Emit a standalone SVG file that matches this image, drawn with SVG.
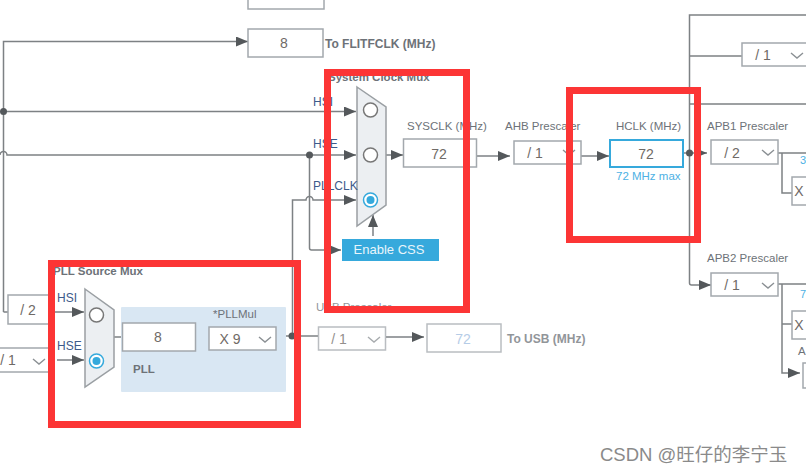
<svg xmlns="http://www.w3.org/2000/svg" width="806" height="474" viewBox="0 0 806 474">
<style>
text{font-family:"Liberation Sans",Arial,sans-serif}
.w{fill:none;stroke:#7d8184;stroke-width:1.5}
.b{fill:#fff;stroke:#a3a8ad;stroke-width:1.5}
.m{fill:#eceff2;stroke:#9a9fa3;stroke-width:1.5}
.l{font-size:11.500px;fill:#6d7278}
.s{font-size:12px;fill:#3d5a8a}
.v{font-size:14px;fill:#6f6a66;text-anchor:middle}
.t{font-size:11.500px;font-weight:bold;fill:#6d7278}
.c{fill:none;stroke:#8b9094;stroke-width:1.4}
.r{fill:none;stroke:#fc3535;stroke-width:7}
.d{fill:#54585b}
</style>
<defs>
<marker id="a" markerWidth="13" markerHeight="10" refX="12" refY="5" orient="auto" markerUnits="userSpaceOnUse"><path d="M0 0L12 5L0 10z" fill="#54585b"/></marker>
</defs>
<g id="connectors">
<path class="w" d="M3.500 312V41.500H248" marker-end="url(#a)"/>
<path class="w" d="M3.500 111.500H356" marker-end="url(#a)"/>
<path class="w" d="M0 155a3.500 3.500 0 0 1 7 0H356" marker-end="url(#a)"/>
<path class="w" d="M309.500 155V248q0 2 2 2H341" marker-end="url(#a)"/>
<path class="w" d="M292.500 336V200H306a3.500 3.500 0 0 1 7 0H356" marker-end="url(#a)"/>
<path class="w" d="M386 155H403" marker-end="url(#a)"/>
<path class="w" d="M477 156H510" marker-end="url(#a)"/>
<path class="w" d="M581 156H609" marker-end="url(#a)"/>
<path class="w" d="M373 236V215" marker-end="url(#a)"/>
<path class="w" d="M684 153H707" marker-end="url(#a)"/>
<path class="w" d="M806 15H689.500V283q0 2 2 2H711" marker-end="url(#a)"/>
<path class="w" d="M690 56H742M690 104H806"/>
<path class="w" d="M3.500 312H10"/>
<path class="w" d="M55 312H84" marker-end="url(#a)"/>
<path class="w" d="M57 360H84" marker-end="url(#a)"/>
<path class="w" d="M114 337H122M196 337H209M276 336H318"/>
<path class="w" d="M386 337H424" marker-end="url(#a)"/>
<path class="w" d="M778 153H806M782 153V193H792M778 284H806M782 324H792"/>
<path class="w" d="M782 284V373H800" marker-end="url(#a)"/>
<circle class="d" cx="3.500" cy="111.500" r="3.500"/>
<circle class="d" cx="309.500" cy="155" r="3.500"/>
<circle class="d" cx="292" cy="336" r="3.500"/>
<circle class="d" cx="689.500" cy="153" r="3.500"/>
</g>
<g id="flitf"><rect class="b" x="248" y="-5" width="76" height="14"/><rect class="b" x="248" y="29" width="75" height="28"/><text class="v" x="284" y="48">8</text><text class="t" x="325" y="48" style="font-size:12px">To FLITFCLK (MHz)</text></g>
<g id="sysmux"><path class="m" d="M357 87L386 107V205L357 226z"/><circle cx="370.500" cy="110" r="7" fill="#fff" stroke="#777" stroke-width="1.500"/><circle cx="370.500" cy="155" r="7" fill="#fff" stroke="#777" stroke-width="1.500"/><circle cx="370.500" cy="200" r="7" fill="#fff" stroke="#35a9dc" stroke-width="1.500"/><circle cx="370.500" cy="200" r="4" fill="#35a9dc"/><text class="t" x="328" y="81">System Clock Mux</text><text class="s" x="313" y="106">HSI</text><text class="s" x="313" y="148">HSE</text><text class="s" x="313" y="190">PLLCLK</text></g>
<g id="css"><rect x="342" y="239" width="97" height="22" fill="#36a9dc"/><text x="389" y="254" font-size="13" fill="#e8f5fb" text-anchor="middle">Enable CSS</text></g>
<g id="sysclk"><rect class="b" x="403.500" y="139" width="73" height="28"/><text class="v" x="439" y="159">72</text><text class="l" x="407" y="130">SYSCLK (MHz)</text></g>
<g id="ahb"><rect class="b" x="514" y="141" width="67" height="23"/><text class="v" x="535" y="158">/ 1</text><path class="c" d="M563 150l6 5l6-5"/><text class="l" x="505" y="130">AHB Prescaler</text></g>
<g id="hclk"><rect x="610" y="140" width="73" height="27" fill="#fff" stroke="#36a9dc" stroke-width="2"/><text class="v" x="646" y="159">72</text><text class="l" x="616" y="130">HCLK (MHz)</text><text x="616" y="180" font-size="11.500" fill="#4db1e4">72 MHz max</text></g>
<g id="apb1"><rect class="b" x="711" y="140" width="67" height="24"/><text class="v" x="732" y="158">/ 2</text><path class="c" d="M762 150l6 5l6-5"/><text class="l" x="707" y="130">APB1 Prescaler</text><text x="800" y="164" font-size="11" fill="#4db1e4">3</text><rect class="b" x="792" y="177" width="30" height="28"/><text class="v" x="799" y="196">X</text></g>
<g id="cortex"><rect class="b" x="742" y="43" width="80" height="23"/><text class="v" x="763" y="60">/ 1</text><path class="c" d="M791 53l6 5l6-5"/></g>
<g id="apb2"><rect class="b" x="711" y="273" width="67" height="23"/><text class="v" x="732" y="290">/ 1</text><path class="c" d="M762 283l6 5l6-5"/><text class="l" x="707" y="262">APB2 Prescaler</text><text x="800" y="298" font-size="11" fill="#4db1e4">7</text><rect class="b" x="792" y="311" width="30" height="28"/><text class="v" x="799" y="330">X</text><text class="l" x="798" y="355">A</text><rect class="b" x="803" y="363" width="20" height="25"/></g>
<g id="pllmux"><rect class="b" x="8" y="295" width="44" height="29"/><text class="v" x="28" y="315">/ 2</text><rect class="b" x="-20" y="348" width="72" height="24"/><text class="v" x="8" y="365">/ 1</text><path class="c" d="M33 359l6 5l6-5"/><path class="m" d="M85 289L114 310V367L85 387z"/><circle cx="96.500" cy="315" r="7" fill="#fff" stroke="#777" stroke-width="1.500"/><circle cx="96.500" cy="361" r="7" fill="#fff" stroke="#35a9dc" stroke-width="1.500"/><circle cx="96.500" cy="361" r="4" fill="#35a9dc"/><text class="t" x="53" y="275">PLL Source Mux</text><text class="s" x="57" y="302">HSI</text><text class="s" x="57" y="350">HSE</text></g>
<g id="pll"><rect x="121" y="307" width="165" height="85" rx="1" fill="#d9e7f3"/><rect class="b" x="122.500" y="323" width="73" height="28"/><text class="v" x="158" y="342">8</text><rect class="b" x="209" y="327" width="67" height="23"/><text class="v" x="230" y="344">X 9</text><path class="c" d="M259 337l6 5l6-5"/><text class="l" x="213" y="318">*PLLMul</text><text class="t" x="133" y="373">PLL</text></g>
<g id="usb" opacity="0.75"><rect class="b" x="318.500" y="327" width="67" height="23"/><text class="v" x="339" y="344">/ 1</text><path class="c" d="M368 337l6 5l6-5"/><text class="l" x="316" y="311">USB Prescaler</text><rect class="b" x="427" y="324" width="74" height="28"/><text x="463" y="344" font-size="14" fill="#9dbbe0" text-anchor="middle">72</text><text class="t" x="507" y="343" style="font-size:12px">To USB (MHz)</text></g>
<g id="highlights"><rect class="r" x="51.500" y="263.500" width="246" height="161"/><rect class="r" x="327.500" y="72.500" width="139" height="237"/><rect class="r" x="569.500" y="90.500" width="128" height="149"/></g>
<text x="600" y="461" font-size="18.500" fill="#8a8a8a" style="font-family:'Liberation Sans','Noto Sans CJK SC',sans-serif">CSDN @旺仔的李宁玉</text>
</svg>
